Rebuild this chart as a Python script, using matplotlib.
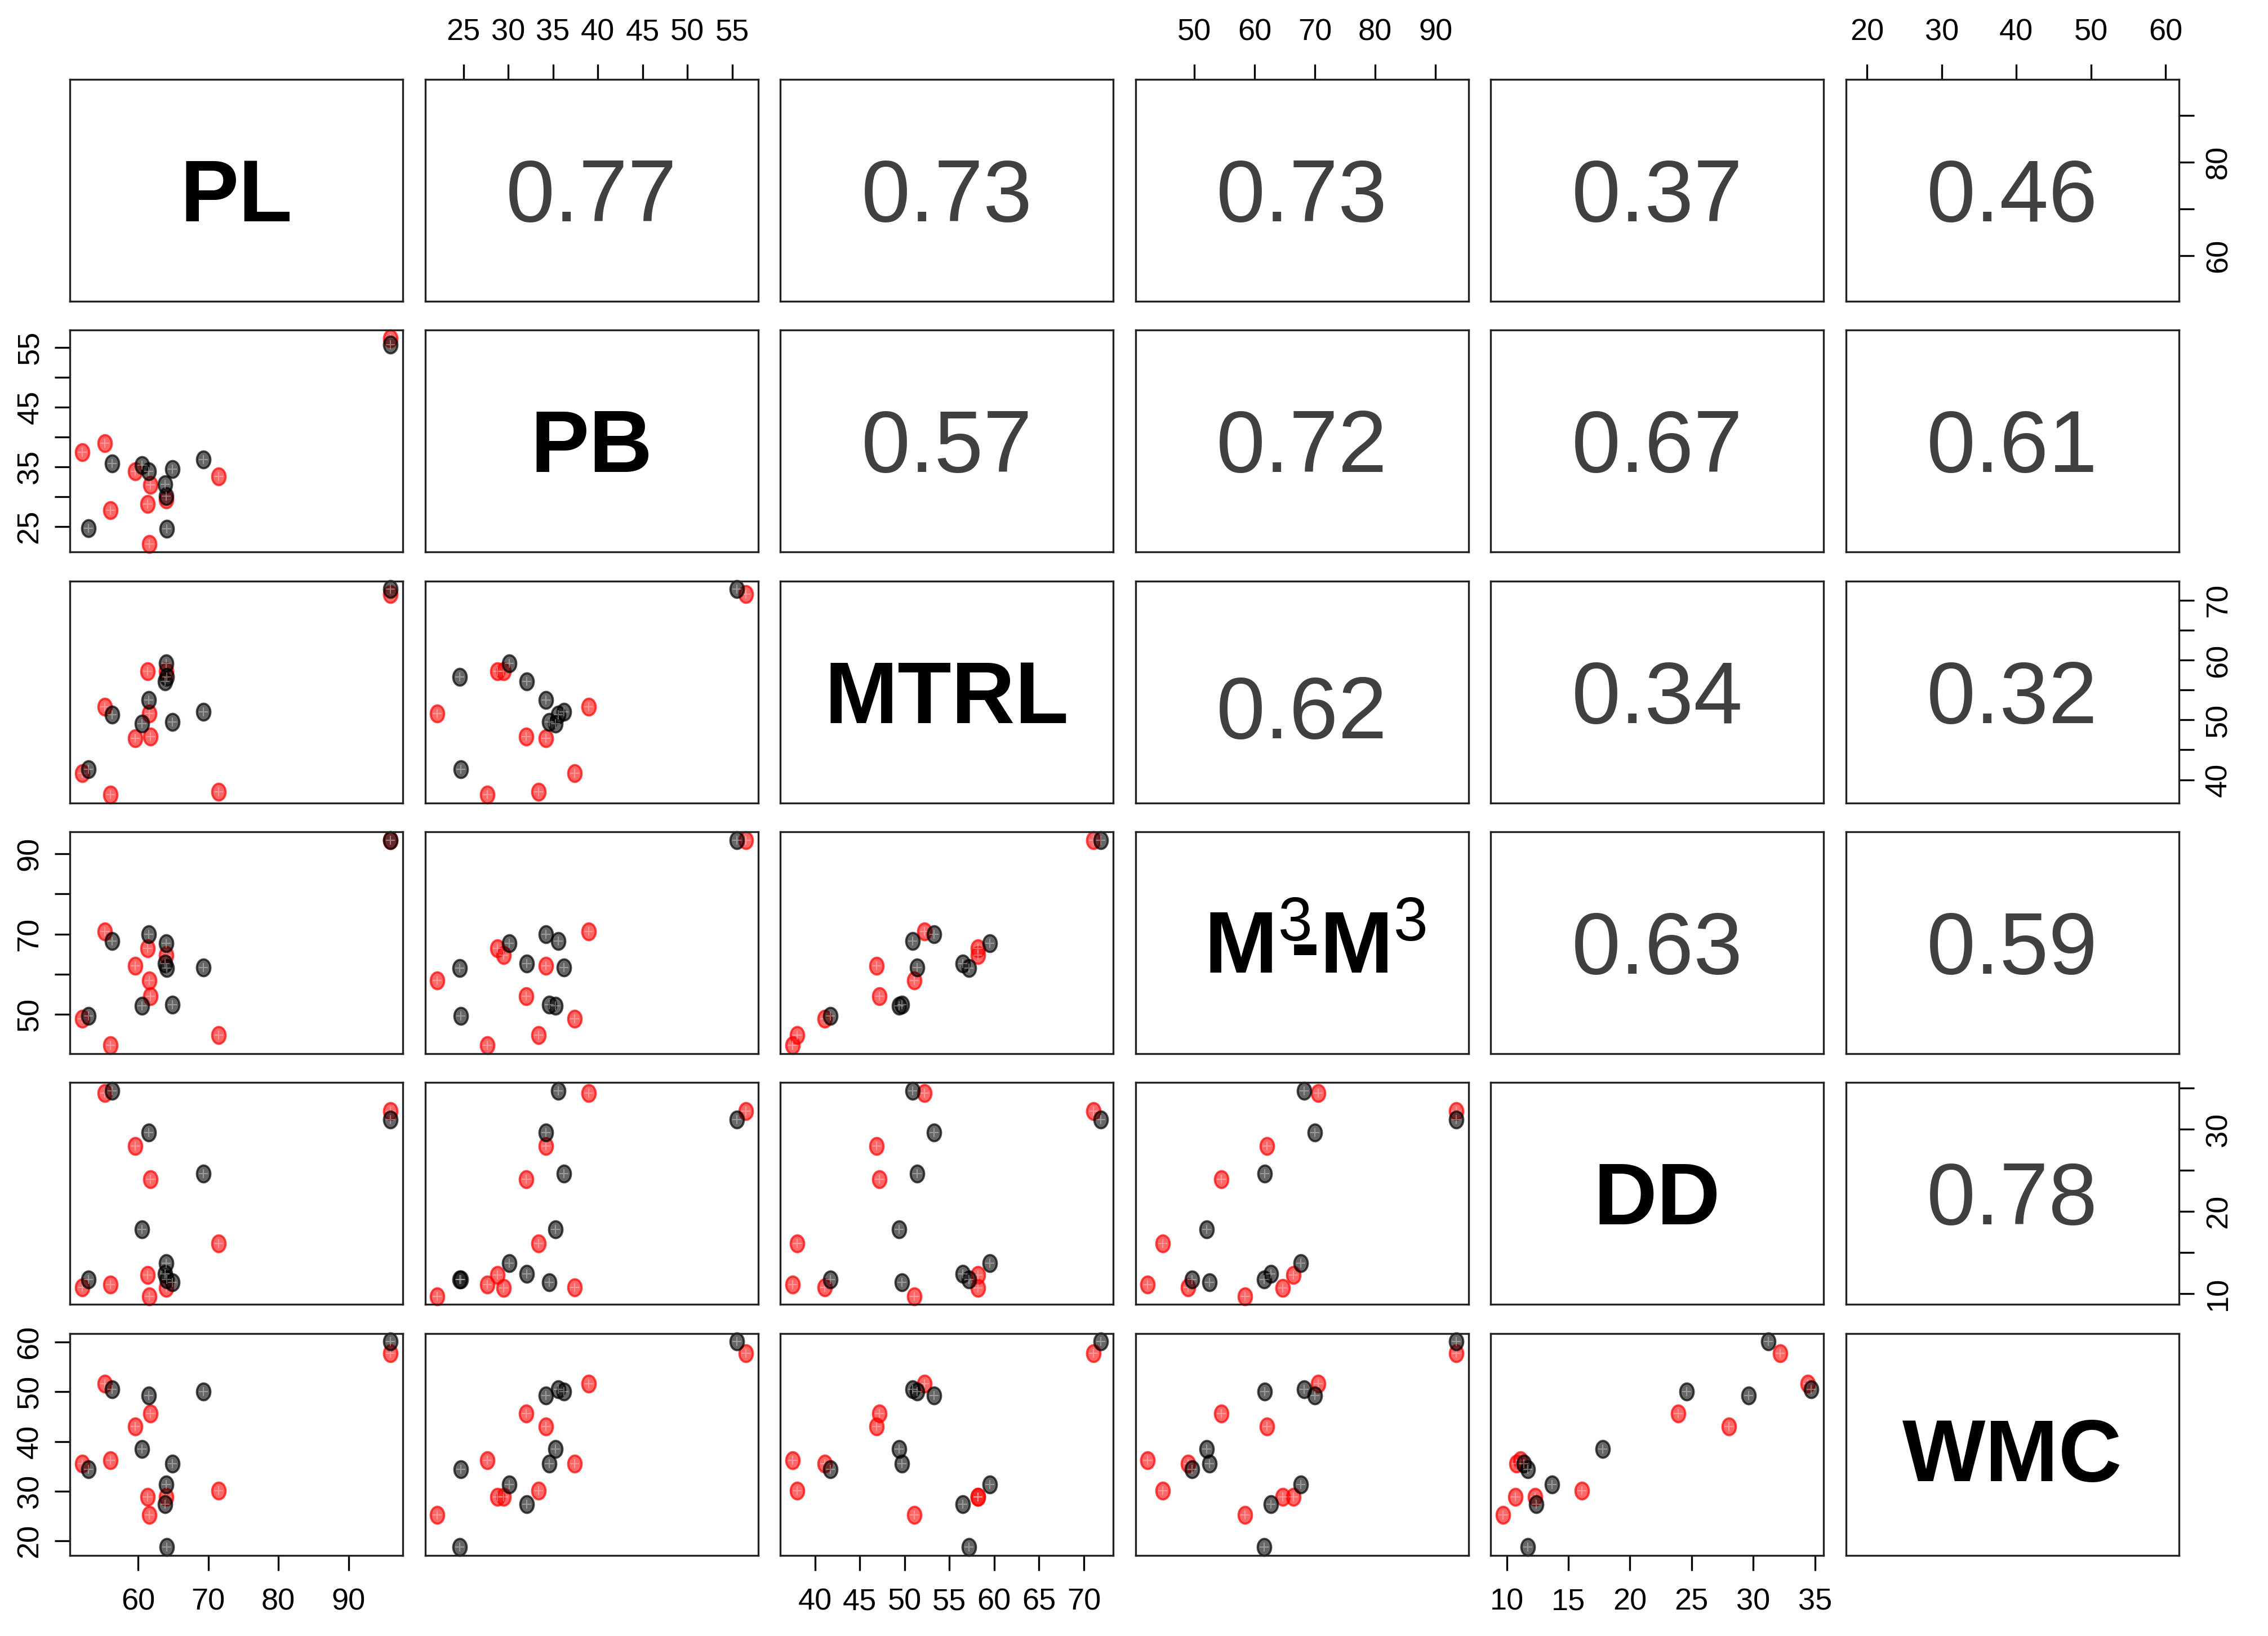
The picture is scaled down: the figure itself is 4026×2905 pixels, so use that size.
import numpy as np
import matplotlib.pyplot as plt
from matplotlib.colors import to_rgb
from matplotlib.path import Path
from matplotlib.transforms import Affine2D

plt.rcParams.update({
    "font.family": ["Liberation Sans", "DejaVu Sans"],
    "mathtext.fontset": "custom",
    "mathtext.rm": "Liberation Sans:bold",
    "mathtext.bf": "Liberation Sans:bold",
    "mathtext.it": "Liberation Sans:italic",
    "mathtext.sf": "Liberation Sans",
    "xtick.labelsize": 13,
    "ytick.labelsize": 13,
    "xtick.major.size": 6.5,
    "ytick.major.size": 6.5,
    "xtick.major.width": 0.8,
    "ytick.major.width": 0.8,
    "xtick.direction": "out",
    "ytick.direction": "out",
})

# --- data: 20 specimens, two groups ---
group = ["red"] * 10 + ["black"] * 10
pl = [52.0, 55.2, 56.0, 59.6, 61.3, 61.6, 61.7, 64.0, 71.5, 96.0,
      52.9, 56.3, 60.5, 61.5, 63.8, 64.0, 64.1, 64.9, 69.3, 96.0]
pb = [37.4, 39.0, 27.7, 34.2, 28.8, 22.1, 32.0, 29.5, 33.4, 56.5,
      24.7, 35.6, 35.3, 34.2, 32.1, 30.1, 24.6, 34.6, 36.2, 55.5]
mtrl = [41.1, 52.2, 37.5, 46.9, 58.2, 51.1, 47.2, 58.2, 38.0, 71.1,
        41.7, 50.9, 49.4, 53.3, 56.5, 59.5, 57.2, 49.7, 51.4, 71.9]
m3m3 = [49.0, 70.6, 42.3, 62.1, 66.4, 58.4, 54.5, 64.7, 44.8, 93.4,
        49.6, 68.2, 52.1, 70.0, 62.7, 67.7, 61.6, 52.5, 61.7, 93.4]
dd = [10.8, 34.4, 11.1, 28.0, 12.3, 9.7, 23.9, 10.7, 16.1, 32.2,
      11.7, 34.7, 17.8, 29.6, 12.4, 13.7, 11.7, 11.4, 24.6, 31.2]
wmc = [35.6, 51.6, 36.2, 43.0, 28.9, 25.3, 45.6, 28.9, 30.1, 57.7,
       34.4, 50.5, 38.5, 49.3, 27.4, 31.4, 18.8, 35.6, 50.0, 60.1]

names = ["PL", "PB", "MTRL", r"$\mathrm{M}^{\mathsf{3}}\!\!\text{-}\mathrm{M}^{\mathsf{3}}$",
         "DD", "WMC"]
columns = [pl, pb, mtrl, m3m3, dd, wmc]

# correlation labels printed in the upper triangle, row by row
cor_upper = [["0.77", "0.73", "0.73", "0.37", "0.46"],
             ["0.57", "0.72", "0.67", "0.61"],
             ["0.62", "0.34", "0.32"],
             ["0.63", "0.59"],
             ["0.78"]]

# axis ticks (R keeps every tick, drops some labels on the rotated side)
ticks = [[60, 70, 80, 90],
         [25, 30, 35, 40, 45, 50, 55],
         [40, 45, 50, 55, 60, 65, 70],
         [50, 60, 70, 80, 90],
         [10, 15, 20, 25, 30, 35],
         [20, 30, 40, 50, 60]]
side_labels = [["60", "", "80", ""],
               ["25", "", "35", "", "45", "", "55"],
               ["40", "", "50", "", "60", "", "70"],
               ["50", "", "70", "", "90"],
               ["10", "", "20", "", "30", ""],
               ["20", "30", "40", "50", "60"]]

colors = {"red": "#FF0000", "black": "#000000"}
grp = np.array(group)
data = [np.array(c, dtype=float) for c in columns]
lims = []
for v in data:
    span = v.max() - v.min()
    lims.append((v.min() - 0.04 * span, v.max() + 0.04 * span))

# slightly tall ellipse marker, like the original points
ell = Path.unit_circle().transformed(Affine2D().scale(0.8, 1.0))

fig = plt.figure(figsize=(4026 / 300, 2905 / 300), dpi=300)

x0, w, xstep = 0.0308, 0.1468, 0.15661
top0, h, ystep = 0.95146, 0.13563, 0.15329

for i in range(6):
    for j in range(6):
        ax = fig.add_axes([x0 + j * xstep, top0 - h - i * ystep, w, h])
        ax.set_xlim(lims[j])
        ax.set_ylim(lims[i])
        for sp in ax.spines.values():
            sp.set_linewidth(0.8)
            sp.set_color("#222222")
        ax.tick_params(bottom=False, top=False, left=False, right=False,
                       labelbottom=False, labeltop=False,
                       labelleft=False, labelright=False)
        ax.set_xticks([])
        ax.set_yticks([])

        # outer axes, alternating sides like R pairs()
        if i == 5 and j % 2 == 0:
            ax.set_xticks(ticks[j], [str(t) for t in ticks[j]])
            ax.tick_params(axis="x", bottom=True, labelbottom=True, pad=7.5)
        if i == 0 and j % 2 == 1:
            ax.set_xticks(ticks[j], [str(t) for t in ticks[j]])
            ax.tick_params(axis="x", top=True, labeltop=True, pad=7.5)
        if j == 0 and i % 2 == 1:
            ax.set_yticks(ticks[i], side_labels[i])
            ax.tick_params(axis="y", left=True, labelleft=True,
                           labelrotation=90, pad=4.5)
            plt.setp(ax.yaxis.get_majorticklabels(), va="center")
        if j == 5 and i % 2 == 0:
            ax.set_yticks(ticks[i], side_labels[i])
            ax.tick_params(axis="y", right=True, labelright=True,
                           labelrotation=90, pad=4.5)
            plt.setp(ax.yaxis.get_majorticklabels(), va="center")

        if i > j:
            for g in ["red", "black"]:
                m = grp == g
                rgb = to_rgb(colors[g])
                ax.plot(data[j][m], data[i][m], ls="none", marker=ell,
                        ms=7.2, mfc=(*rgb, 0.6), mec=(*rgb, 0.7), mew=0.9,
                        clip_on=False)
                ax.plot(data[j][m], data[i][m], ls="none", marker="+",
                        ms=4.0, mew=0.5, color=(1, 1, 1, 0.35), clip_on=False)
        elif i < j:
            yb = 0.29 if (i, j) == (2, 3) else 0.36
            ax.text(0.5, yb, cor_upper[i][j - i - 1], transform=ax.transAxes,
                    ha="center", va="baseline", fontsize=37.5, color="#404040")
        else:
            xb, yb = 0.5, 0.36
            if i == 3:
                xb, yb = 0.54, 0.364
            elif i == 5:
                yb = 0.335
            ax.text(xb, yb, names[i], transform=ax.transAxes,
                    ha="center", va="baseline", fontsize=37.5,
                    fontweight="bold", color="black")

fig.savefig("out.png", dpi=300, facecolor="white")
